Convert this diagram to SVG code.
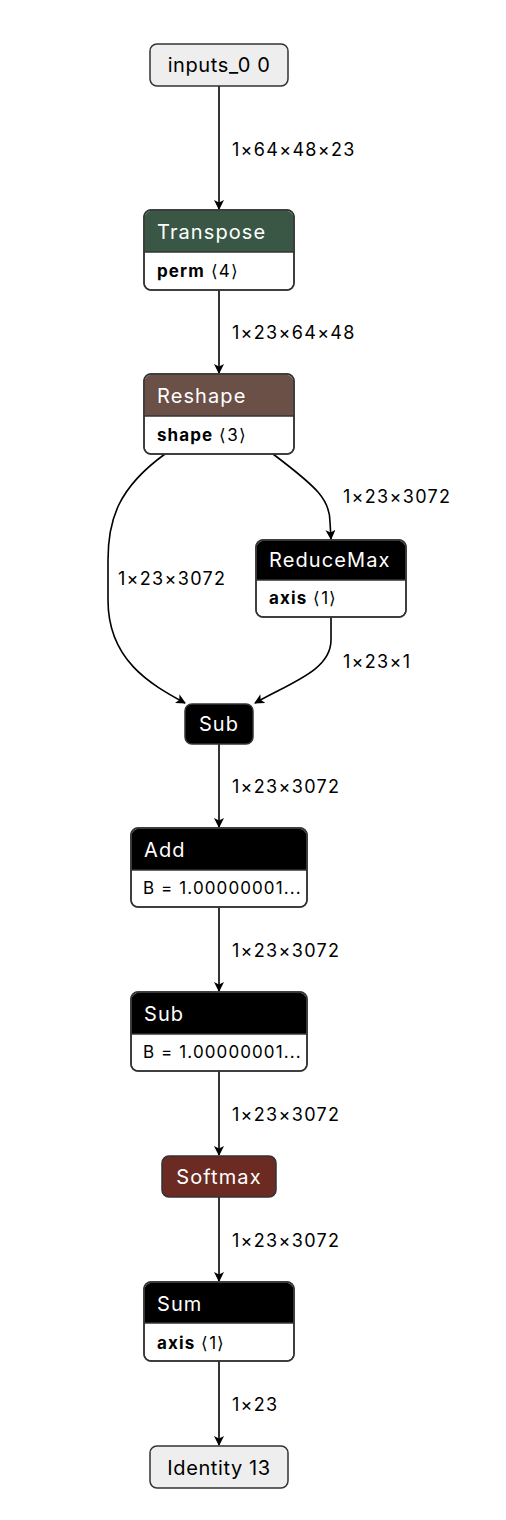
<svg xmlns="http://www.w3.org/2000/svg" width="506" height="1520" viewBox="0 0 506 1520">
<style>
.t{font-family:Inter,"Liberation Sans",Arial,sans-serif;}
.name{font-size:20px;fill:#fff;letter-spacing:1.1px;}
.io{font-size:20px;fill:#000;letter-spacing:0.6px;}
.attr{font-size:17px;fill:#000;letter-spacing:1.1px;}
.b{font-weight:bold;}
.lbl{font-size:18px;fill:#000;letter-spacing:1.3px;}
.box{stroke:#333;stroke-width:1.5;}
.e{fill:none;stroke:#000;stroke-width:1.6;marker-end:url(#ah);}
</style>
<defs>
<marker id="ah" viewBox="0 0 10 10" refX="9" refY="5" markerWidth="10" markerHeight="10" markerUnits="userSpaceOnUse" orient="auto">
<path d="M0,0 L10,5 L0,10 L2.5,5 z" fill="#000"/>
</marker>
</defs>
<rect width="506" height="1520" fill="#fff"/>
<g id="edges">
<path class="e" d="M219,86 L219,209"/>
<path class="e" d="M219,290 L219,373"/>
<path class="e" d="M165,454 C118,488 108,520 108,560 L108,600 C108,660 150,684 185,703"/>
<path class="e" d="M273,454 C318,488 330,500 330,522 L331,539"/>
<path class="e" d="M331,617 L331,640 C331,670 292,682 255,703"/>
<path class="e" d="M219,744 L219,827"/>
<path class="e" d="M219,907 L219,991"/>
<path class="e" d="M219,1071 L219,1155"/>
<path class="e" d="M219,1197 L219,1281"/>
<path class="e" d="M219,1361 L219,1445"/>
<g class="t lbl">
<text x="232" y="156">1×64×48×23</text>
<text x="232" y="339">1×23×64×48</text>
<text x="343" y="503">1×23×3072</text>
<text x="118" y="585">1×23×3072</text>
<text x="343" y="668">1×23×1</text>
<text x="232" y="793">1×23×3072</text>
<text x="232" y="957">1×23×3072</text>
<text x="232" y="1121">1×23×3072</text>
<text x="232" y="1247">1×23×3072</text>
<text x="232" y="1411">1×23</text>
</g>
</g>
<g id="inputs_0">
<rect class="box" x="150" y="44" width="138" height="42" rx="7" fill="#eee"/>
<text class="t io" x="219" y="72" text-anchor="middle">inputs_0 0</text>
</g>
<g id="transpose">
<rect class="box" x="144" y="210" width="150" height="80" rx="7" fill="#fff"/>
<path d="M144.75,252 V217 a7,7 0 0 1 7,-6.25 H286.25 a7,7 0 0 1 7,6.25 V252 z" fill="#3a5745"/>
<rect class="box" x="144" y="210" width="150" height="80" rx="7" fill="none"/>
<line x1="144" y1="252" x2="294" y2="252" stroke="#333" stroke-width="1.5"/>
<text class="t name" x="157" y="239">Transpose</text>
<text class="t attr" x="157" y="277"><tspan class="b">perm</tspan> ⟨4⟩</text>
</g>
<g id="reshape">
<rect class="box" x="144" y="374" width="150" height="80" rx="7" fill="#fff"/>
<path d="M144.75,416 V381 a7,7 0 0 1 7,-6.25 H286.25 a7,7 0 0 1 7,6.25 V416 z" fill="#6b5048"/>
<rect class="box" x="144" y="374" width="150" height="80" rx="7" fill="none"/>
<line x1="144" y1="416" x2="294" y2="416" stroke="#333" stroke-width="1.5"/>
<text class="t name" x="157" y="403">Reshape</text>
<text class="t attr" x="157" y="441"><tspan class="b">shape</tspan> ⟨3⟩</text>
</g>
<g id="reducemax">
<rect class="box" x="256" y="540" width="150" height="77" rx="7" fill="#fff"/>
<path d="M256.75,580 V547 a7,7 0 0 1 7,-6.25 H398.25 a7,7 0 0 1 7,6.25 V580 z" fill="#000"/>
<rect class="box" x="256" y="540" width="150" height="77" rx="7" fill="none"/>
<line x1="256" y1="580" x2="406" y2="580" stroke="#333" stroke-width="1.5"/>
<text class="t name" x="269" y="567">ReduceMax</text>
<text class="t attr" x="269" y="604"><tspan class="b">axis</tspan> ⟨1⟩</text>
</g>
<g id="sub1">
<rect class="box" x="185" y="704" width="68" height="40" rx="7" fill="#000"/>
<text class="t name" x="219" y="731" text-anchor="middle">Sub</text>
</g>
<g id="add">
<rect class="box" x="131" y="828" width="176" height="79" rx="7" fill="#fff"/>
<path d="M131.75,870 V835 a7,7 0 0 1 7,-6.25 H299.25 a7,7 0 0 1 7,6.25 V870 z" fill="#000"/>
<rect class="box" x="131" y="828" width="176" height="79" rx="7" fill="none"/>
<line x1="131" y1="870" x2="307" y2="870" stroke="#333" stroke-width="1.5"/>
<text class="t name" x="144" y="857">Add</text>
<text class="t attr" x="143" y="894">B = 1.00000001...</text>
</g>
<g id="sub2">
<rect class="box" x="131" y="992" width="176" height="79" rx="7" fill="#fff"/>
<path d="M131.75,1034 V999 a7,7 0 0 1 7,-6.25 H299.25 a7,7 0 0 1 7,6.25 V1034 z" fill="#000"/>
<rect class="box" x="131" y="992" width="176" height="79" rx="7" fill="none"/>
<line x1="131" y1="1034" x2="307" y2="1034" stroke="#333" stroke-width="1.5"/>
<text class="t name" x="144" y="1021">Sub</text>
<text class="t attr" x="143" y="1058">B = 1.00000001...</text>
</g>
<g id="softmax">
<rect class="box" x="162" y="1156" width="114" height="41" rx="7" fill="#6b2a22"/>
<text class="t name" x="219" y="1184" text-anchor="middle">Softmax</text>
</g>
<g id="sum">
<rect class="box" x="144" y="1282" width="150" height="79" rx="7" fill="#fff"/>
<path d="M144.75,1323 V1289 a7,7 0 0 1 7,-6.25 H286.25 a7,7 0 0 1 7,6.25 V1323 z" fill="#000"/>
<rect class="box" x="144" y="1282" width="150" height="79" rx="7" fill="none"/>
<line x1="144" y1="1323" x2="294" y2="1323" stroke="#333" stroke-width="1.5"/>
<text class="t name" x="157" y="1311">Sum</text>
<text class="t attr" x="157" y="1349"><tspan class="b">axis</tspan> ⟨1⟩</text>
</g>
<g id="identity13">
<rect class="box" x="150" y="1446" width="138" height="42" rx="7" fill="#eee"/>
<text class="t io" x="219" y="1475" text-anchor="middle">Identity 13</text>
</g>
</svg>
